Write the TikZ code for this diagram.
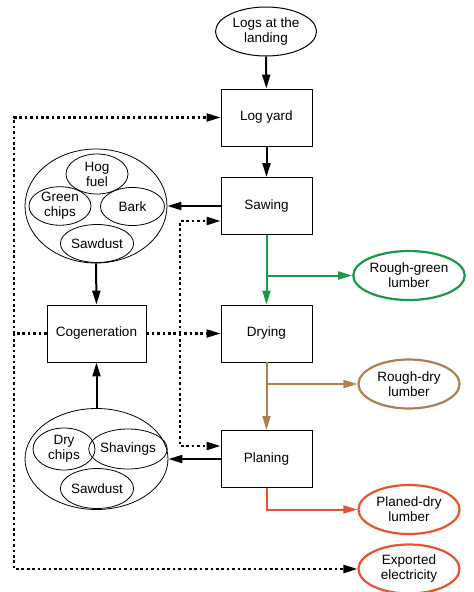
\documentclass[tikz,border=0pt]{standalone}
\usepackage{fontspec}
\setmainfont{Liberation Sans}
\usepackage{tikz}
\usetikzlibrary{arrows.meta,shapes}
\usetikzlibrary{positioning}
\definecolor{sawgreen}{RGB}{26,154,72}
\definecolor{drybrown}{RGB}{176,127,78}
\definecolor{planeorange}{RGB}{233,83,43}
\tikzset{
	% pixel-like units, y downwards
    process/.style={draw=black, rectangle, line width=0.9pt,
        minimum width=91pt, minimum height=57pt, inner sep=0pt, align=center},
    product/.style={draw, ellipse, line width=2.2pt,
        minimum width=101pt, minimum height=49pt, inner sep=0pt, align=center},
    residue/.style={draw=black, ellipse, line width=0.8pt, inner sep=0pt, align=center},
    flow/.style={draw=black, line width=2pt},
    power/.style={draw=black, line width=2.3pt, dash pattern=on 2.6pt off 2.8pt},
    greenflow/.style={draw=sawgreen, line width=2pt},
    brownflow/.style={draw=drybrown, line width=2pt},
    orangeflow/.style={draw=planeorange, line width=2pt},
}

\begin{document}
\begin{tikzpicture}[x=1pt, y=-1pt, >={Triangle[length=14pt,width=8pt]},
    font=\fontsize{13.5}{15}\selectfont]
	\useasboundingbox (0,0) rectangle (474,592);
	% main line
	\node[residue, line width=1pt, minimum width=101pt, minimum height=49pt] (landing) at (266,31.5) {Logs at the\\landing};
	\node[process] (logyard) at (266.5,117.5) {Log yard};
	\node[process] (sawing) at (266.5,206) {Sawing};
	\node[process] (drying) at (266.5,333.5) {Drying};
	\node[process] (planing) at (266.5,459) {Planing};
	\node[process, minimum width=99pt] (cogen) at (96.5,333.5) {Cogeneration};
	% products
	\node[product, draw=sawgreen] (roughgreen) at (409,275.5) {Rough-green\\lumber};
	\node[product, draw=drybrown] (roughdry) at (409,384) {Rough-dry\\lumber};
	\node[product, draw=planeorange] (planeddry) at (409,509.5) {Planed-dry\\lumber};
	\node[product, draw=planeorange] (exported) at (409,569) {Exported\\electricity};
	% residues from sawing
	\node[residue, minimum width=142pt, minimum height=114pt] (sawres) at (96,206) {};
	\node[residue, minimum width=62pt, minimum height=40pt] (hogfuel) at (97,174) {Hog\\fuel};
	\node[residue, minimum width=62pt, minimum height=36pt] (greenchips) at (60,206) {Green\\chips};
	\node[residue, minimum width=64pt, minimum height=38pt] (bark) at (132.5,206.5) {Bark};
	\node[residue, minimum width=62pt, minimum height=38pt] (sawdusta) at (97,243.5) {Sawdust};
	% residues from planing
	\node[residue, minimum width=143pt, minimum height=101pt] (planeres) at (96.5,459) {};
	\node[residue, minimum width=62pt, minimum height=42pt] (drychips) at (64,449) {Dry\\chips};
	\node[residue, minimum width=62pt, minimum height=40pt] (shavings) at (128,449) {Shavings};
	\node[residue, minimum width=62pt, minimum height=40pt] (sawdustb) at (97,488.5) {Sawdust};
	% solid flows
	\draw[flow,->] (landing) -- (logyard);
	\draw[flow,->] (logyard) -- (sawing);
	\draw[flow,->] (sawing.west) -- (sawres.east);
	\draw[flow,->] (sawres.south) -- (cogen.north);
	\draw[flow,->] (planeres.north) -- (cogen.south);
	\draw[flow,->] (planing.west) -- (planeres.east);
	% lumber
	\draw[greenflow,->] (sawing.south) -- (drying.north);
	\draw[greenflow,->] (sawing.south |- roughgreen.west) -- (roughgreen.west);
	\draw[brownflow,->] (drying.south) -- (planing.north);
	\draw[brownflow,->] (drying.south |- roughdry.west) -- (roughdry.west);
	\draw[orangeflow,->] (planing.south) |- (planeddry.west);
	% energy
	\coordinate (elbow) at (14,333.5);
	\coordinate (split) at (180,333.5);
	\draw[power] (cogen.west) -- (elbow);
	\draw[power,->] (elbow) |- (logyard.west);
	\draw[power,->] (elbow) |- (exported.west);
	\draw[power,->] (cogen.east) -- (drying.west);
	\draw[power,->] (split) |- ([yshift=-15pt]sawing.west);
	\draw[power,->] (split) |- ([yshift=13pt]planing.west);
\end{tikzpicture}
\end{document}
